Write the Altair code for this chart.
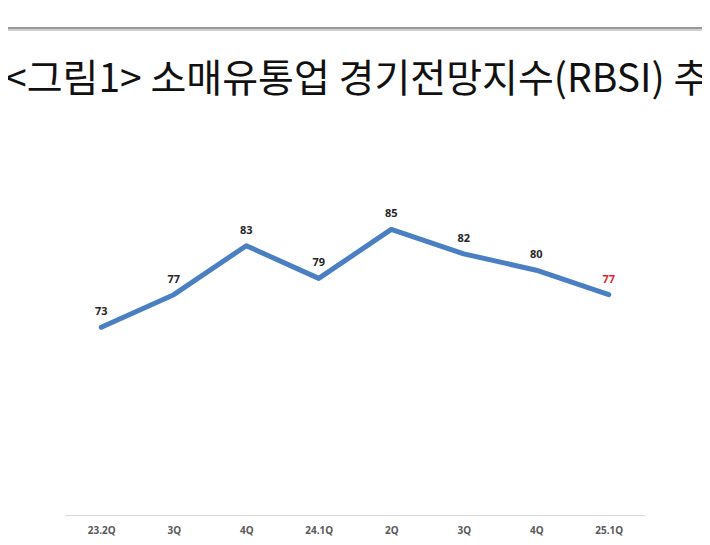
import altair as alt
import pandas as pd

quarters = ["23.2Q", "23.3Q", "23.4Q", "24.1Q", "24.2Q", "24.3Q", "24.4Q", "25.1Q"]
tick_labels = ["23.2Q", "3Q", "4Q", "24.1Q", "2Q", "3Q", "4Q", "25.1Q"]
rbsi = [73, 77, 83, 79, 85, 82, 80, 77]
label_colors = ["#262626"] * 7 + ["#e0262b"]
title_text = "<그림1> 소매유통업 경기전망지수(RBSI) 추이"

df = pd.DataFrame({
    "idx": list(range(len(quarters))),
    "q": quarters,
    "v": rbsi,
    "c": label_colors,
})

label_expr = "[" + ",".join("'%s'" % t for t in tick_labels) + "][datum.value]"

x = alt.X("idx:O", axis=alt.Axis(
    title=None, labelExpr=label_expr, labelAngle=0, ticks=False,
    domainColor="#d9d9d9", domainWidth=1, labelColor="#5a5a5a",
    labelFontSize=10, labelFontWeight="bold", labelPadding=10,
    labelFont="Noto Sans"))
y = alt.Y("v:Q", scale=alt.Scale(domain=[50, 100]), axis=None)

base = alt.Chart(df)

line = base.mark_line(color="#4a7fc4", strokeWidth=5, strokeCap="round",
                      strokeJoin="round").encode(x=x, y=y)

labels = base.mark_text(dy=-15, fontSize=11, fontWeight="bold",
                        font="Noto Sans").encode(
    x=alt.X("idx:O"), y=alt.Y("v:Q"),
    text=alt.Text("v:Q"),
    color=alt.Color("c:N", scale=None))

title_df = pd.DataFrame({"t": [title_text]})
title = alt.Chart(title_df).mark_text(
    align="left", baseline="alphabetic", fontSize=39,
    font="Noto Sans CJK KR", color="#111111").encode(
    x=alt.value(-60), y=alt.value(-15), text="t:N")

rule1 = alt.Chart(title_df).mark_rule(color="#9a9a9a", strokeWidth=2).encode(
    x=alt.value(-70), x2=alt.value(700), y=alt.value(-79))
rule2 = alt.Chart(title_df).mark_rule(color="#cfcfcf", strokeWidth=2).encode(
    x=alt.value(-70), x2=alt.value(700), y=alt.value(-77))

chart = alt.layer(rule1, rule2, title, line, labels).properties(
    width=580, height=408,
    autosize=alt.AutoSizeParams(type="none"),
    padding={"left": 57, "top": 99, "right": 57, "bottom": 22},
    background="white",
).configure_view(stroke=None)

chart.save("out.html", embed_options={"renderer": "svg", "actions": False})
